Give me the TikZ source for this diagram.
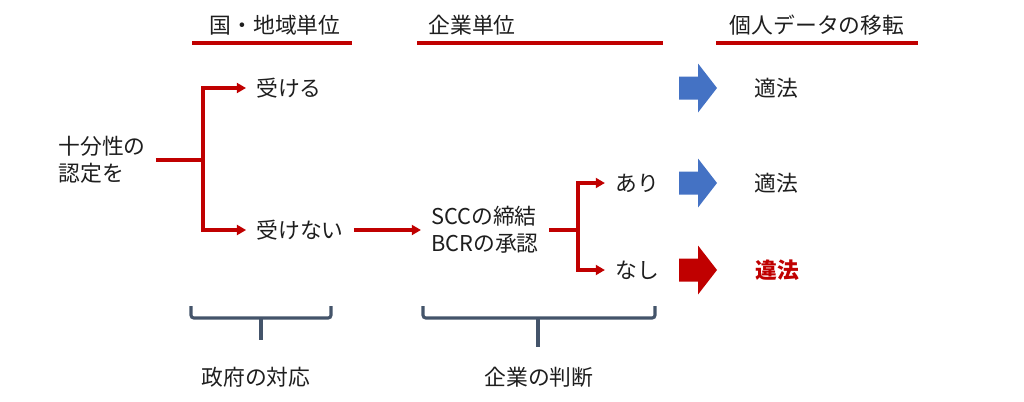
\documentclass[tikz,border=0pt]{standalone}
\usepackage{fontspec}
\usepackage{xcolor}
\usetikzlibrary{arrows.meta,positioning,calc}
\newfontfamily\jpfont{Noto Sans CJK JP}
\definecolor{clrR}{RGB}{192,0,0}
\definecolor{clrBl}{RGB}{68,114,196}
\definecolor{clrS}{RGB}{68,84,106}
\definecolor{clrT}{RGB}{30,30,30}
\tikzset{
  term/.style={font=\jpfont\fontsize{15.5}{19.5}\selectfont,text=clrT,
    inner xsep=0.25cm,inner ysep=2pt,align=left},
  head/.style={term,inner xsep=0pt},
  flow/.style={draw=clrR,line width=2.2pt,
    -{Triangle[length=6.5pt,width=7pt]}},
  bar/.style={draw=clrR,line width=2.2pt},
  brace/.style={draw=clrS,line width=2.2pt,rounded corners=2pt},
  bigarrow/.pic={
    \fill[pic actions] (0,-11.5) -- (19,-11.5) -- (19,-24.5) -- (38,0)
      -- (19,24.5) -- (19,11.5) -- (0,11.5) -- cycle;}
}
\begin{document}
\begin{tikzpicture}[x=0.025cm,y=-0.025cm]
  \useasboundingbox (0,0) rectangle (1024,401);

  % column headers
  \node[head] (hcountry) at (275,25) {国・地域単位};
  \node[head] (hfirm) at (472,25) {企業単位};
  \node[head] (htransfer) at (817,25) {個人データの移転};
  \draw[bar] (192,43) -- (352,43);
  \draw[bar] (417,43) -- (663,43);
  \draw[bar] (716,43) -- (918,43);

  % government branch
  \node[term] (cert) at (102,160) {十分性の\\認定を};
  \node[term] (accept) at (289,88) {受ける};
  \node[term] (reject) at (300,230) {受けない};
  \coordinate (forkA) at (203,160);

  \draw[bar] (cert.east) -- (forkA);
  \draw[flow] (forkA) |- (accept.west);
  \draw[flow] (forkA) |- (reject.west);

  % company branch
  \node[term] (scc) at (485,230) {SCCの締結\\BCRの承認};
  \node[term] (yes) at (637,183) {あり};
  \node[term] (no) at (637,270) {なし};
  \coordinate (forkB) at (578,230);

  \draw[flow] (reject.east) -- (scc.west);
  \draw[bar] (scc.east) -- (forkB);
  \draw[flow] (forkB) |- (yes.west);
  \draw[flow] (forkB) |- (no.west);

  % outcome
  \pic[fill=clrBl] at (679,88) {bigarrow};
  \pic[fill=clrBl] at (679,183) {bigarrow};
  \pic[fill=clrR] at (679,270) {bigarrow};
  \node[term] (legal1) at (776,88) {適法};
  \node[term] (legal2) at (776,183) {適法};
  \node[term,text=clrR,font=\jpfont\bfseries\fontsize{15.5}{19.5}\selectfont]
    (illegal) at (777,270) {違法};

  % braces
  \draw[brace] (191,306) -- (191,318) -- (331,318) -- (331,306);
  \draw[brace] (261,318) -- (261,340);
  \draw[brace] (423,306) -- (423,318) -- (655,318) -- (655,306);
  \draw[brace] (538,318) -- (538,347);
  \node[term] (gov) at (256,377) {政府の対応};
  \node[term] (firm) at (539,377) {企業の判断};
\end{tikzpicture}
\end{document}
